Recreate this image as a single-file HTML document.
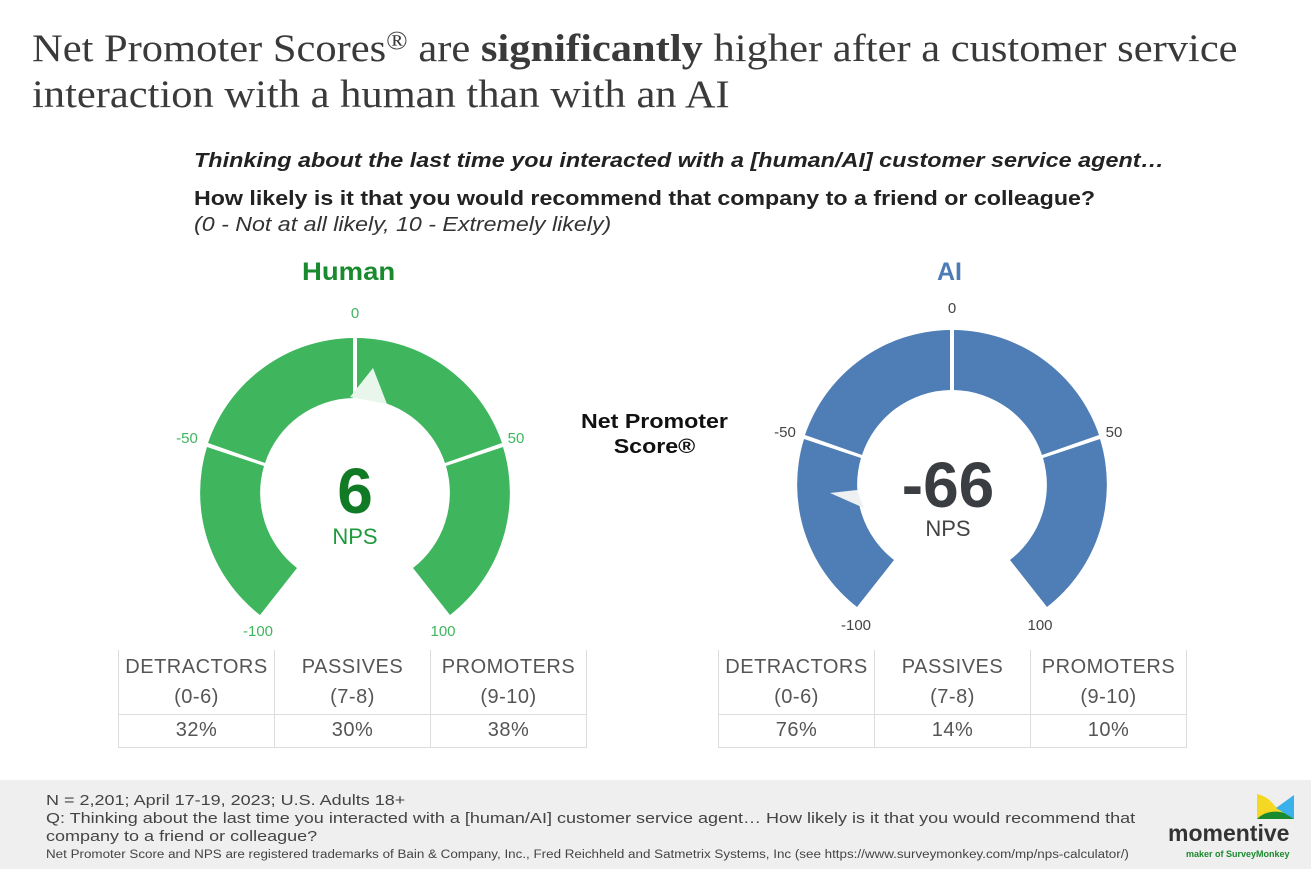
<!DOCTYPE html>
<html><head><meta charset="utf-8"><style>
body{margin:0;width:1311px;height:869px;background:#fff;position:relative;overflow:hidden;font-family:"Liberation Sans",sans-serif;}
.t{position:absolute;white-space:nowrap;transform-origin:0 0}
h1{position:absolute;left:32px;top:26px;margin:0;font-family:"Liberation Serif",serif;font-weight:normal;font-size:39px;line-height:46px;color:#3a3a3a;transform:scaleX(1.09);transform-origin:0 0;white-space:nowrap}
table{position:absolute;border-collapse:collapse;font-size:20px;color:#555;text-align:center;letter-spacing:0.5px}
td{border:1px solid #ddd;width:155px;padding:0}
.foot{position:absolute;left:0;top:780px;width:1311px;height:89px;background:#efefef}
</style></head><body>
<h1>Net Promoter Scores<sup style="font-size:26px;vertical-align:12px;line-height:0">®</sup> are <b>significantly</b> higher after a customer service<br>interaction with a human than with an AI</h1>
<div class="t" style="left:194px;top:150px;font-size:20px;font-style:italic;font-weight:bold;color:#222;transform:scaleX(1.17)">Thinking about the last time you interacted with a [human/AI] customer service agent…</div>
<div class="t" style="left:194px;top:188px;font-size:20px;font-weight:bold;color:#222;transform:scaleX(1.16)">How likely is it that you would recommend that company to a friend or colleague?</div>
<div class="t" style="left:194px;top:214px;font-size:20px;font-style:italic;color:#333;transform:scaleX(1.16)">(0 - Not at all likely, 10 - Extremely likely)</div>
<div class="t" style="left:302px;top:258px;font-size:25px;font-weight:bold;color:#1a8a2e;transform:scaleX(1.1)">Human</div>
<div class="t" style="left:937px;top:258px;font-size:25px;font-weight:bold;color:#4e7bb5">AI</div>
<div class="t" style="left:581px;top:410px;font-size:20px;font-weight:bold;color:#111;text-align:center;line-height:25px;transform:scaleX(1.16)">Net Promoter<br>Score®</div>
<svg width="1311" height="869" style="position:absolute;left:0;top:0" font-family="Liberation Sans, sans-serif">
<defs>
<g id="segs">
<path d="M-147,-50 A155,155 0 0 1 -2,-155 L-2,-95 A95,95 0 0 0 -90,-30 Z"/>
<path d="M2,-155 A155,155 0 0 1 147,-50 L90,-30 A95,95 0 0 0 2,-95 Z"/>
<path d="M148,-46 A155,155 0 0 1 95,122 L58,75 A95,95 0 0 0 91,-27 Z"/>
<path d="M-148,-46 A155,155 0 0 0 -95,122 L-58,75 A95,95 0 0 1 -91,-27 Z"/>
</g>
</defs>
<g transform="translate(355,493)" fill="#3fb55e"><use href="#segs"/>
<polygon points="-5,-96 18,-125 32,-89" fill="#e8f6ec"/>
<g fill="#3fb55e" font-size="15" text-anchor="middle"><text x="0" y="-175">0</text><text x="-168" y="-50">-50</text><text x="161" y="-50">50</text><text x="-97" y="143">-100</text><text x="88" y="143">100</text></g>
<text x="0" y="20" font-size="64" font-weight="bold" fill="#117a25" text-anchor="middle">6</text>
<text x="0" y="51" font-size="22" fill="#1f9a3a" text-anchor="middle">NPS</text>
</g>
<g transform="translate(952,485)" fill="#4f7db6"><use href="#segs"/>
<polygon points="-95,5 -122,8 -88,23" fill="#eef0f2"/>
<g fill="#444" font-size="15" text-anchor="middle"><text x="0" y="-172">0</text><text x="-167" y="-48">-50</text><text x="162" y="-48">50</text><text x="-96" y="145">-100</text><text x="88" y="145">100</text></g>
<text x="-4" y="22" font-size="64" font-weight="bold" fill="#3a3d42" text-anchor="middle">-66</text>
<text x="-4" y="51" font-size="22" fill="#444" text-anchor="middle">NPS</text>
</g>
</svg>
<table style="left:118px;top:650px"><tr style="height:64px;line-height:30px"><td style="border-top:none">DETRACTORS<br>(0-6)</td><td style="border-top:none">PASSIVES<br>(7-8)</td><td style="border-top:none">PROMOTERS<br>(9-10)</td></tr><tr style="height:33px"><td>32%</td><td>30%</td><td>38%</td></tr></table>
<table style="left:718px;top:650px"><tr style="height:64px;line-height:30px"><td style="border-top:none">DETRACTORS<br>(0-6)</td><td style="border-top:none">PASSIVES<br>(7-8)</td><td style="border-top:none">PROMOTERS<br>(9-10)</td></tr><tr style="height:33px"><td>76%</td><td>14%</td><td>10%</td></tr></table>
<div class="foot"></div>
<div class="t" style="left:46px;top:792px;font-size:15px;color:#444;line-height:18px;transform:scaleX(1.2)">N = 2,201; April 17-19, 2023; U.S. Adults 18+<br>Q: Thinking about the last time you interacted with a [human/AI] customer service agent… How likely is it that you would recommend that<br>company to a friend or colleague?</div>
<div class="t" style="left:46px;top:849px;font-size:11.5px;color:#444;transform:scaleX(1.165)">Net Promoter Score and NPS are registered trademarks of Bain &amp; Company, Inc., Fred Reichheld and Satmetrix Systems, Inc (see https://www.surveymonkey.com/mp/nps-calculator/)</div>
<svg width="50" height="30" style="position:absolute;left:1256px;top:793px"><path d="M1,1 L1,26 L38,26 Z" fill="#f5d823"/><path d="M1,1 A28,28 0 0 1 20,15 L1,26 Z" fill="#f5d823"/><path d="M1,26 A22,16 0 0 1 38,26 Z" fill="#1a8a2e"/><path d="M20,15 L38,2 L38,26 Z" fill="#3bb1ec"/></svg>
<div class="t" style="left:1168px;top:820px;font-size:23px;font-weight:bold;color:#333">momentive</div>
<div class="t" style="left:1186px;top:849px;font-size:9px;font-weight:bold;color:#1a8a2e">maker of SurveyMonkey</div>
</body></html>
